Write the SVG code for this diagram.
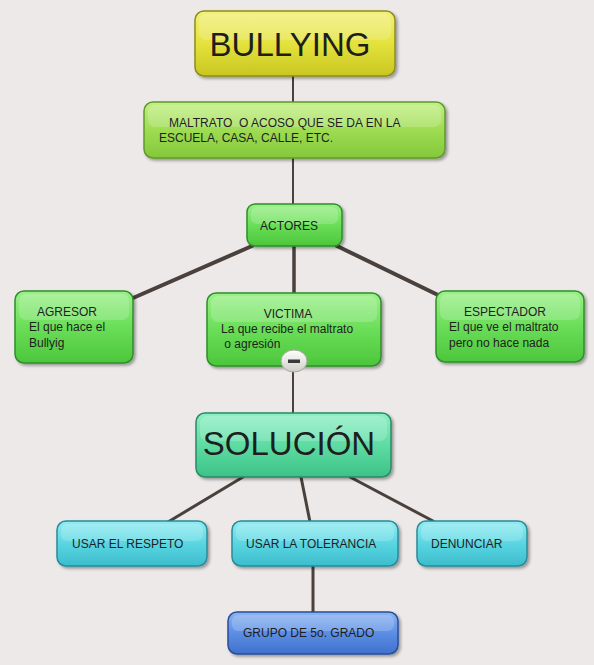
<svg xmlns="http://www.w3.org/2000/svg" width="594" height="665" viewBox="0 0 594 665">
<defs>
<linearGradient id="gY" x1="0" y1="0" x2="0" y2="1"><stop offset="0" stop-color="#f2f07a"/><stop offset="0.5" stop-color="#e4e23c"/><stop offset="1" stop-color="#c9c622"/></linearGradient>
<linearGradient id="gLG" x1="0" y1="0" x2="0" y2="1"><stop offset="0" stop-color="#c4ef86"/><stop offset="0.5" stop-color="#9edc52"/><stop offset="1" stop-color="#84c83a"/></linearGradient>
<linearGradient id="gG" x1="0" y1="0" x2="0" y2="1"><stop offset="0" stop-color="#9cf08a"/><stop offset="0.5" stop-color="#6ade58"/><stop offset="1" stop-color="#4cc63c"/></linearGradient>
<linearGradient id="gT" x1="0" y1="0" x2="0" y2="1"><stop offset="0" stop-color="#8ef0c4"/><stop offset="0.5" stop-color="#5edca4"/><stop offset="1" stop-color="#3cc287"/></linearGradient>
<linearGradient id="gC" x1="0" y1="0" x2="0" y2="1"><stop offset="0" stop-color="#92ecf2"/><stop offset="0.5" stop-color="#5ad6e2"/><stop offset="1" stop-color="#3cbccc"/></linearGradient>
<linearGradient id="gB" x1="0" y1="0" x2="0" y2="1"><stop offset="0" stop-color="#8cb4f2"/><stop offset="0.5" stop-color="#5c8ee4"/><stop offset="1" stop-color="#3f70cc"/></linearGradient>
<linearGradient id="gM" x1="0" y1="0" x2="0" y2="1"><stop offset="0" stop-color="#ffffff"/><stop offset="1" stop-color="#cfcfc8"/></linearGradient>
<filter id="sh" x="-10%" y="-10%" width="125%" height="140%"><feDropShadow dx="2" dy="2" stdDeviation="1.5" flood-color="#000" flood-opacity="0.35"/></filter>
</defs>
<style>
.n rect.b{filter:url(#sh);stroke-width:1.5}
.n rect.h{fill:#fff;fill-opacity:0.18;stroke:none}
text{font-family:"Liberation Sans",Arial,sans-serif;fill:#1e1e1e;white-space:pre}
.s{font-size:12px}
.big{font-size:33px}
.c{stroke:#4a403c;fill:none;stroke-linecap:round}
</style>
<rect width="594" height="665" fill="#ece9e8"/>
<g id="connectors">
<line class="c" x1="293" y1="76" x2="293" y2="102" stroke-width="2"/>
<line class="c" x1="293" y1="158" x2="293" y2="204" stroke-width="2"/>
<line class="c" x1="252" y1="246" x2="133" y2="298" stroke-width="4"/>
<line class="c" x1="294" y1="246" x2="294" y2="293" stroke-width="3.5"/>
<line class="c" x1="337" y1="246" x2="438" y2="295" stroke-width="4"/>
<line class="c" x1="293" y1="372" x2="293" y2="414" stroke-width="2"/>
<line class="c" x1="243" y1="477" x2="168" y2="522" stroke-width="3"/>
<line class="c" x1="301" y1="477" x2="310" y2="522" stroke-width="3"/>
<line class="c" x1="350" y1="477" x2="433" y2="521" stroke-width="3"/>
<line class="c" x1="313" y1="566" x2="313" y2="612" stroke-width="3"/>
</g>
<g id="bullying" class="n"><rect class="b" x="195" y="11" width="200" height="65" rx="9" fill="url(#gY)" stroke="#8e8c1e"/><rect class="h" x="199" y="14" width="192" height="26" rx="7"/><text class="big" x="290" y="56" text-anchor="middle">BULLYING</text></g>
<g id="maltrato" class="n"><rect class="b" x="144" y="102" width="301" height="56" rx="9" fill="url(#gLG)" stroke="#5e9a2a"/><rect class="h" x="148" y="105" width="293" height="22" rx="7"/><text class="s" x="169" y="127">MALTRATO  O ACOSO QUE SE DA EN LA</text><text class="s" x="159" y="142">ESCUELA, CASA, CALLE, ETC.</text></g>
<g id="actores" class="n"><rect class="b" x="247" y="204" width="95" height="42" rx="8" fill="url(#gG)" stroke="#2f8e2a"/><rect class="h" x="251" y="207" width="87" height="17" rx="6"/><text class="s" x="289" y="230" text-anchor="middle">ACTORES</text></g>
<g id="agresor" class="n"><rect class="b" x="15" y="291" width="118" height="72" rx="9" fill="url(#gG)" stroke="#2f8e2a"/><rect class="h" x="19" y="294" width="110" height="26" rx="7"/><text class="s" x="67" y="316" text-anchor="middle">AGRESOR</text><text class="s" x="29" y="331">El que hace el</text><text class="s" x="29" y="347">Bullyig</text></g>
<g id="victima" class="n"><rect class="b" x="207" y="293" width="174" height="73" rx="9" fill="url(#gG)" stroke="#2f8e2a"/><rect class="h" x="211" y="296" width="166" height="26" rx="7"/><text class="s" x="288" y="318" text-anchor="middle">VICTIMA</text><text class="s" x="221" y="333">La que recibe el maltrato</text><text class="s" x="221" y="348"> o agresión</text></g>
<g id="colapsar"><ellipse cx="294" cy="361" rx="13" ry="11" fill="url(#gM)" stroke="#a8a8a0" stroke-width="1"/><rect x="288" y="359.5" width="12" height="3.5" fill="#3a3a3a"/></g>
<g id="espectador" class="n"><rect class="b" x="436" y="291" width="148" height="71" rx="9" fill="url(#gG)" stroke="#2f8e2a"/><rect class="h" x="440" y="294" width="140" height="26" rx="7"/><text class="s" x="505" y="316" text-anchor="middle">ESPECTADOR</text><text class="s" x="449" y="331">El que ve el maltrato</text><text class="s" x="449" y="347">pero no hace nada</text></g>
<g id="solucion" class="n"><rect class="b" x="196" y="413" width="195" height="64" rx="9" fill="url(#gT)" stroke="#2a8a64"/><rect class="h" x="200" y="416" width="187" height="25" rx="7"/><text class="big" x="289" y="455" text-anchor="middle">SOLUCIÓN</text></g>
<g id="respeto" class="n"><rect class="b" x="57" y="521" width="150" height="45" rx="9" fill="url(#gC)" stroke="#2a8a98"/><rect class="h" x="61" y="524" width="142" height="17" rx="6"/><text class="s" x="72" y="548">USAR EL RESPETO</text></g>
<g id="tolerancia" class="n"><rect class="b" x="232" y="521" width="166" height="45" rx="9" fill="url(#gC)" stroke="#2a8a98"/><rect class="h" x="236" y="524" width="158" height="17" rx="6"/><text class="s" x="246" y="548">USAR LA TOLERANCIA</text></g>
<g id="denunciar" class="n"><rect class="b" x="417" y="521" width="110" height="45" rx="9" fill="url(#gC)" stroke="#2a8a98"/><rect class="h" x="421" y="524" width="102" height="17" rx="6"/><text class="s" x="431" y="548">DENUNCIAR</text></g>
<g id="grupo" class="n"><rect class="b" x="228" y="612" width="170" height="42" rx="9" fill="url(#gB)" stroke="#2a4e98"/><rect class="h" x="232" y="615" width="162" height="16" rx="6"/><text class="s" x="243" y="637">GRUPO DE 5o. GRADO</text></g>
</svg>
